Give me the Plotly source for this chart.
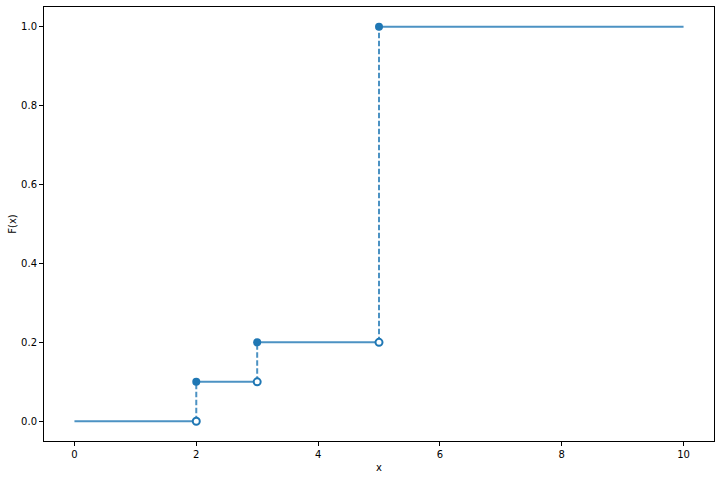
import plotly.graph_objects as go

# step points of the distribution function
jumps = [2, 3, 5]
x_start = 0
x_end = 10
levels = [0.0, 0.1, 0.2, 1.0]

blue = "#1f77b4"
line_col = "rgba(31,119,180,0.8)"

edges = [x_start] + jumps + [x_end]

fig = go.Figure()

# horizontal pieces
for i, lvl in enumerate(levels):
    fig.add_trace(go.Scatter(x=[edges[i], edges[i + 1]], y=[lvl, lvl], mode="lines",
                             line=dict(color=line_col, width=2), showlegend=False))

# dashed jumps
for i, xj in enumerate(jumps):
    fig.add_trace(go.Scatter(x=[xj, xj], y=[levels[i], levels[i + 1]], mode="lines",
                             line=dict(color=line_col, width=2, dash="5.5px,2.5px"), showlegend=False))

# open ends (left limits) and closed points
fig.add_trace(go.Scatter(x=jumps, y=levels[:-1], mode="markers",
                         marker=dict(size=7, color="white", line=dict(color=blue, width=2)),
                         showlegend=False))
fig.add_trace(go.Scatter(x=jumps, y=levels[1:], mode="markers",
                         marker=dict(size=8, color=blue, line=dict(width=0)),
                         showlegend=False))

axis_common = dict(showgrid=False, zeroline=False, showline=True, linecolor="black",
                   linewidth=1, mirror=True, ticks="outside", ticklen=4, tickwidth=1,
                   tickcolor="black", tickfont=dict(size=10, color="black"),
                   automargin=False)

fig.update_layout(
    width=721, height=480,
    margin=dict(l=44, r=7, t=7, b=39),
    paper_bgcolor="white", plot_bgcolor="white",
    font=dict(family="DejaVu Sans", size=10, color="black"),
    xaxis=dict(range=[-0.5, 10.5], tickvals=[0, 2, 4, 6, 8, 10],
               title=dict(text="x", standoff=4, font=dict(size=10)), **axis_common),
    yaxis=dict(range=[-0.05, 1.05], tickvals=[0, 0.2, 0.4, 0.6, 0.8, 1.0], tickformat=".1f",
               title=dict(text="F(x)", standoff=2, font=dict(size=10)), **axis_common),
)

# drop the default page margin so the figure sits at the window corner
fig.write_html("out.html", config={"displayModeBar": False},
               post_script="document.body.style.margin='0';")
